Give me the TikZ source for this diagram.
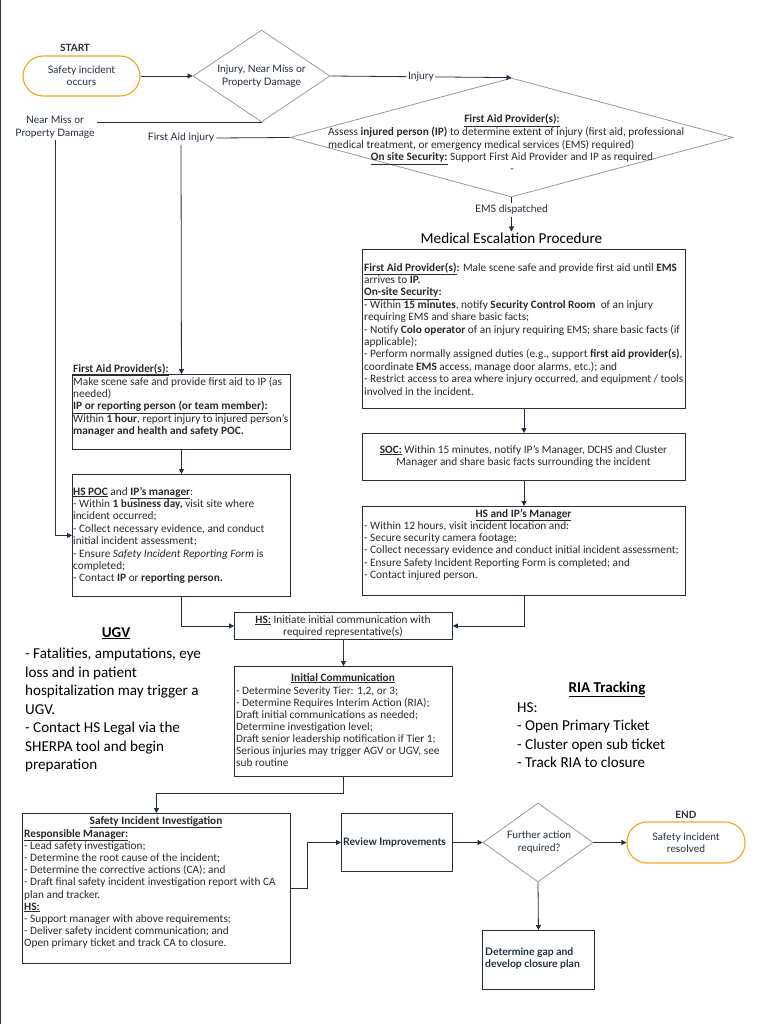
\documentclass[tikz,border=0pt]{standalone}
\usepackage{fontspec}
\setmainfont{Carlito}
\newfontfamily\aws{Lato}
\newcommand{\myul}[1]{\underline{#1}}
\usetikzlibrary{arrows.meta,shapes.geometric}
\definecolor{ink}{HTML}{232F3E}
\definecolor{txt}{HTML}{2A2A2A}
\definecolor{orng}{HTML}{F7A823}
\definecolor{dgray}{HTML}{9A9A9A}
\tikzset{
  box/.style={draw=ink, line width=0.9pt, inner sep=0pt, anchor=north west},
  body/.style={inner sep=0pt, text=txt, font=\fontsize{11.3}{12.4}\selectfont, align=left},
  big/.style={inner sep=0pt, text=black, font=\fontsize{15.1}{18.5}\selectfont, align=left},
  awslbl/.style={inner sep=2pt, text=ink, font=\aws\fontsize{10.3}{12.5}\selectfont, align=center},
  lbl/.style={fill=white, inner sep=1pt, text=ink, font=\aws\fontsize{10.3}{12.5}\selectfont},
  term/.style={draw=orng, line width=1.2pt, rounded corners=20pt, align=center, inner sep=0pt,
    text=ink, font=\aws\fontsize{10.3}{12.5}\selectfont},
  dia/.style={diamond, draw=dgray, line width=0.8pt, inner sep=0pt},
  conn/.style={draw=ink, line width=0.8pt},
  arr/.style={conn, -{Triangle[length=5pt,width=5pt]}},
}
\begin{document}
\begin{tikzpicture}[x=1pt,y=-1pt]
\useasboundingbox (0,0) rectangle (768,1024);
\fill[white] (0,0) rectangle (768,1024);
\draw[ink, line width=1pt] (0.8,0) -- (0.8,1024);

% ---------- top ----------
\node[awslbl, font=\aws\bfseries\fontsize{10}{11}\selectfont] (startlbl) at (75,48) {START};
\node[term, minimum width=117pt, minimum height=40pt] (start) at (81.5,76) {Safety incident\\occurs};
\node[dia, minimum width=137pt, minimum height=92pt] (d1) at (261.5,76) {};
\node[awslbl] (d1t) at (261.5,76) {Injury, Near Miss or\\Property Damage};
\draw[arr] (start.east) -- (d1.west);

\node[dia, minimum width=443pt, minimum height=119pt] (d2) at (511.5,137.5) {};
\node[body, anchor=base] (d2a) at (512,123) {\textbf{\myul{First Aid Provider(s):}}};
\node[body, anchor=base west] (d2b) at (328,148.4) {Assess \textbf{injured person (IP)} to determine extent of injury (first aid, professional\\medical treatment, or emergency medical services (EMS) required)};
\node[body, anchor=base] (d2c) at (512,161) {\textbf{\myul{On site Security:}} Support First Aid Provider and IP as required};
\node[body, anchor=base] (d2d) at (512,173) {-};
\draw[arr] (d1.east) -- node[lbl] {Injury} (d2.north);

\node[awslbl] (nm) at (55,127) {Near Miss or\\Property Damage};
\draw[conn] (d1.south) -- (d1.south -| nm.east);

\node[awslbl] (fai) at (181,138) {First Aid injury};
\draw[conn] (d2.west) -- (fai.east);

\node[awslbl] (ems) at (511.5,210) {EMS dispatched};
\draw[conn] (d2.south) -- (ems.north);
\node[inner sep=1pt, font=\fontsize{15.2}{17}\selectfont, text=black] (mep) at (511.5,238) {Medical Escalation Procedure};
\draw[arr] (ems.south) -- (mep.north);

% ---------- right column ----------
\node[box, minimum width=323pt, minimum height=159pt] (med) at (362,249) {};
\node[body, anchor=base west] (medt) at (364,395) {\textbf{\myul{First Aid Provider(s)}:} Male scene safe and provide first aid until \textbf{EMS}\\
arrives to \textbf{IP.}\\
\textbf{\myul{On-site Security}:}\\
- Within \textbf{15 minutes}, notify \textbf{Security Control Room}\ \ of an injury\\
requiring EMS and share basic facts;\\
- Notify \textbf{Colo operator} of an injury requiring EMS; share basic facts (if\\
applicable);\\
- Perform normally assigned duties (e.g., support \textbf{first aid provider(s)},\\
coordinate \textbf{EMS} access, manage door alarms, etc.); and\\
- Restrict access to area where injury occurred, and equipment / tools\\
involved in the incident.};

\node[box, minimum width=323pt, minimum height=47pt] (soc) at (362,433) {};
\node[body, align=center, anchor=base] (soct) at (523.5,465.4) {\textbf{\myul{SOC:}} Within 15 minutes, notify IP's Manager, DCHS and Cluster\\Manager and share basic facts surrounding the incident};
\draw[arr] (med.south) -- (soc.north);

\node[box, minimum width=323pt, minimum height=89pt] (hsip) at (362,506) {};
\node[body, anchor=base] (hsipt) at (523.5,517) {\textbf{\myul{HS and IP's Manager}}};
\node[body, anchor=base west] (hsipb) at (364,578.6) {- Within 12 hours, visit incident location and:\\
- Secure security camera footage;\\
- Collect necessary evidence and conduct initial incident assessment;\\
- Ensure Safety Incident Reporting Form is completed; and\\
- Contact injured person.};
\draw[arr] (soc.south) -- (hsip.north);

% ---------- left column ----------
\node[body, anchor=base west] (fablbl) at (73,372) {\textbf{\myul{First Aid Provider(s):}}};
\node[box, minimum width=218pt, minimum height=75pt] (fab) at (72,374) {};
\node[body, anchor=base west] (fabt) at (73,434.6) {Make scene safe and provide first aid to IP (as\\
needed)\\
\textbf{\myul{IP or reporting person (or team member):}}\\
Within \textbf{1 hour}, report injury to injured person's\\
\textbf{manager and health and safety POC.}};
\draw[arr] (fai.south) -- (fab.north);

\node[box, minimum width=218pt, minimum height=122pt] (hspoc) at (72,474) {};
\node[body, anchor=base west] (hspoct) at (73,581.8) {\textbf{\myul{HS POC}} and \textbf{\myul{IP's manager}}:\\
- Within \textbf{1 business day,} visit site where\\
incident occurred;\\
- Collect necessary evidence, and conduct\\
initial incident assessment;\\
- Ensure \textit{Safety Incident Reporting Form} is\\
completed;\\
- Contact \textbf{IP} or \textbf{reporting person.}};
\draw[arr] (fab.south) -- (hspoc.north);
\draw[arr] (nm.south) |- (hspoc.west);

% ---------- middle ----------
\node[box, minimum width=218pt, minimum height=27pt] (hs) at (234,612) {};
\node[body, align=center, anchor=base] (hst) at (343,635.4) {\textbf{\myul{HS:}} Initiate initial communication with\\required representative(s)};
\draw[arr] (hsip.south) |- (hs.east);
\draw[arr] (hspoc.south) |- (hs.west);

\node[box, minimum width=218pt, minimum height=110pt] (ic) at (234,666) {};
\node[body, anchor=base] (ict) at (343,681) {\textbf{\myul{Initial Communication}}};
\node[body, anchor=base west, font=\fontsize{11.3}{12}\selectfont] (icb) at (236,766) {- Determine Severity Tier: 1,2, or 3;\\
- Determine Requires Interim Action (RIA);\\
Draft initial communications as needed;\\
Determine investigation level;\\
Draft senior leadership notification if Tier 1;\\
Serious injuries may trigger AGV or UGV, see\\
sub routine};
\draw[arr] (hs.south) -- (ic.north);

% ---------- side notes ----------
\node[big, anchor=base] (ugvt) at (116,637) {\textbf{\myul{UGV}}};
\node[big, anchor=base west] (ugvb) at (25,769.5) {- Fatalities, amputations, eye\\
loss and in patient\\
hospitalization may trigger a\\
UGV.\\
- Contact HS Legal via the\\
SHERPA tool and begin\\
preparation};

\node[big, anchor=base] (riat) at (607,692) {\textbf{\myul{RIA Tracking}}};
\node[big, anchor=base west] (riab) at (517,767.5) {HS:\\
- Open Primary Ticket\\
- Cluster open sub ticket\\
- Track RIA to closure};

% ---------- bottom ----------
\node[box, minimum width=268pt, minimum height=150pt] (sii) at (22,813) {};
\node[body, anchor=base] (siit) at (156,824) {\textbf{\myul{Safety Incident Investigation}}};
\node[body, anchor=base west, font=\fontsize{11.3}{12.2}\selectfont] (siib) at (24,946.8) {\textbf{\myul{Responsible Manager:}}\\
- Lead safety investigation;\\
- Determine the root cause of the incident;\\
- Determine the corrective actions (CA); and\\
- Draft final safety incident investigation report with CA\\
plan and tracker.\\
\textbf{\myul{HS:}}\\
- Support manager with above requirements;\\
- Deliver safety incident communication; and\\
Open primary ticket and track CA to closure.};
\draw[arr] (ic.south) -- ++(0,16) -| (sii.north);

\node[box, minimum width=111pt, minimum height=58pt] (rev) at (341,813) {};
\node[body, anchor=base west, font=\aws\bfseries\fontsize{10.4}{12}\selectfont, text=ink] (revt) at (343,845) {Review Improvements};
\draw[arr] (sii.east) -- ++(16,0) |- (rev.west);

\node[dia, minimum width=110pt, minimum height=79pt] (d3) at (538,842.5) {};
\node[awslbl] (d3t) at (539,842) {Further action\\required?};
\draw[arr] (rev.east) -- (d3.west);

\node[awslbl, font=\aws\bfseries\fontsize{10}{11}\selectfont] (endlbl) at (686,815) {END};
\node[term, minimum width=118pt, minimum height=41pt] (endt) at (686,842.5) {Safety incident\\resolved};
\draw[arr] (d3.east) -- (endt.west);

\node[box, minimum width=112pt, minimum height=59pt] (gap) at (482,930) {};
\node[body, anchor=base west, font=\aws\bfseries\fontsize{10.4}{12.5}\selectfont, text=ink] (gapt) at (485,967.5) {Determine gap and\\develop closure plan};
\draw[arr] (d3.south) -- (gap.north);
\end{tikzpicture}
\end{document}
